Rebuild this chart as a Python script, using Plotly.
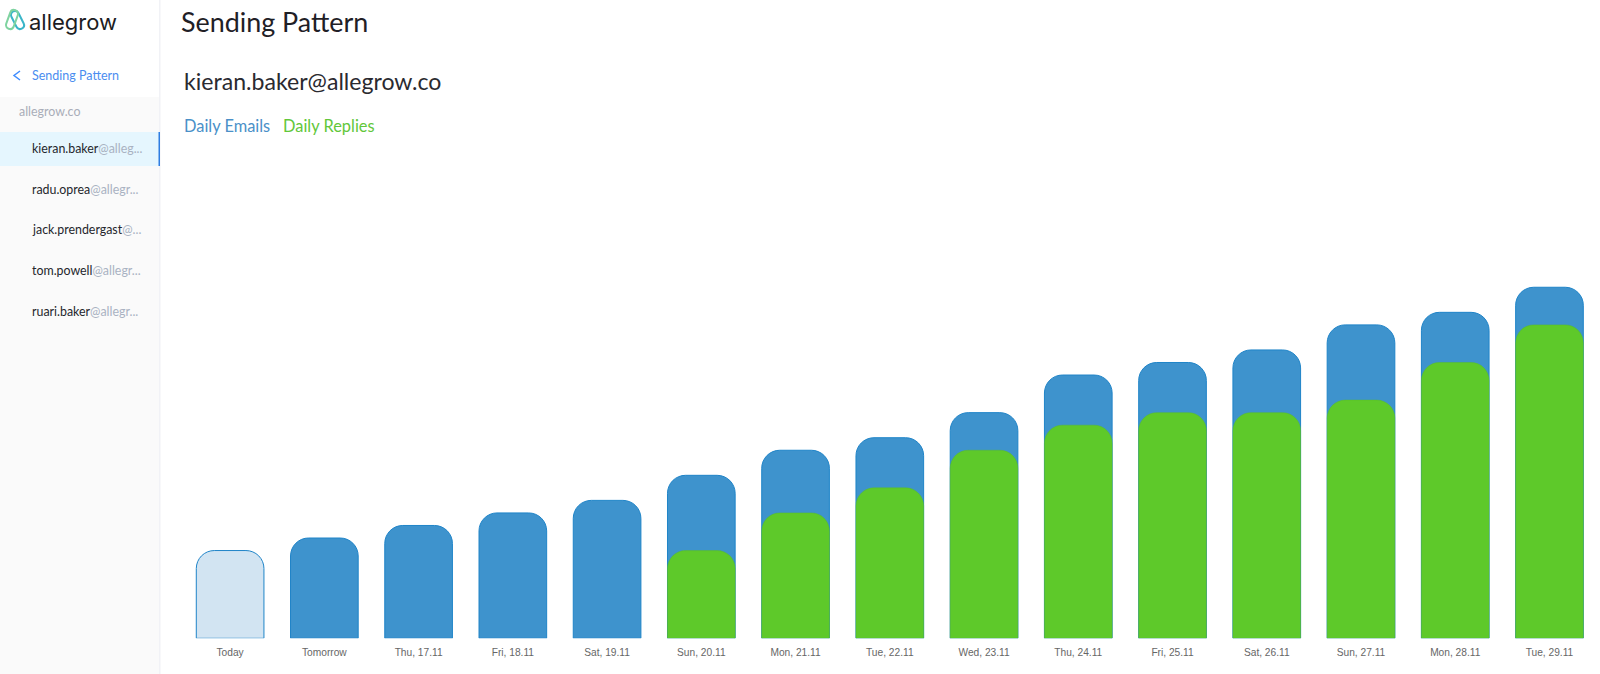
import plotly.graph_objects as go

W, H = 1600, 674

days = ['Today', 'Tomorrow', 'Thu, 17.11', 'Fri, 18.11', 'Sat, 19.11', 'Sun, 20.11',
        'Mon, 21.11', 'Tue, 22.11', 'Wed, 23.11', 'Thu, 24.11', 'Fri, 25.11',
        'Sat, 26.11', 'Sun, 27.11', 'Mon, 28.11', 'Tue, 29.11']
daily_emails = [7, 8, 9, 10, 11, 13, 15, 16, 18, 21, 22, 23, 25, 26, 28]
daily_replies = [None, None, None, None, None, 7, 10, 12, 15, 17, 18, 18, 19, 22, 25]
accounts = ['kieran.baker', 'radu.oprea', 'jack.prendergast', 'tom.powell', 'ruari.baker']
account_tails = ['@alleg...', '@allegr...', '@...', '@allegr...', '@allegr...']

BLUE = '#3e93cd'
GREEN = '#5ec92a'
BODY = 'Lato'
RADIUS = 18
BAR_WIDTH = 0.718
X_DOMAIN = [183 / W, 1596.6 / W]
Y_TOP = 38.55
BASE_PX = 638.3


def px(x):
    return x / W


def py(y):
    return 1 - y / H


def label(x, y, text, size, color, family=BODY):
    return dict(x=px(x), y=py(y), xref='paper', yref='paper', text=text, showarrow=False,
                xanchor='left', yanchor='middle', align='left',
                font=dict(family=family, size=size, color=color))


def rect(x0, y0, x1, y1, color):
    return dict(type='rect', xref='paper', yref='paper', x0=px(x0), x1=px(x1), y0=py(y0), y1=py(y1),
                fillcolor=color, line=dict(width=0), layer='below')


def line_path(points, color, width):
    path = 'M ' + ' L '.join(f'{px(x):.5f} {py(y):.5f}' for x, y in points)
    return dict(type='path', xref='paper', yref='paper', path=path,
                line=dict(color=color, width=width))


def capsule(p1, p2, r, color):
    # one loop of the logo
    dx, dy = p2[0] - p1[0], p2[1] - p1[1]
    length = (dx ** 2 + dy ** 2) ** 0.5
    dx, dy = dx / length, dy / length
    nx, ny = -dy * r, dx * r
    k = 1.33 * r

    def pt(x, y):
        return f'{px(x):.5f} {py(y):.5f}'

    path = (
        f'M {pt(p1[0] + nx, p1[1] + ny)} L {pt(p2[0] + nx, p2[1] + ny)} '
        f'C {pt(p2[0] + nx + dx * k, p2[1] + ny + dy * k)} {pt(p2[0] - nx + dx * k, p2[1] - ny + dy * k)} '
        f'{pt(p2[0] - nx, p2[1] - ny)} L {pt(p1[0] - nx, p1[1] - ny)} '
        f'C {pt(p1[0] - nx - dx * k, p1[1] - ny - dy * k)} {pt(p1[0] + nx - dx * k, p1[1] + ny - dy * k)} '
        f'{pt(p1[0] + nx, p1[1] + ny)} Z'
    )
    return dict(type='path', xref='paper', yref='paper', path=path, line=dict(color=color, width=2))


fig = go.Figure()

fig.add_trace(go.Bar(
    x=days, y=daily_emails, name='Daily Emails', width=BAR_WIDTH,
    marker=dict(color=['#d2e4f2'] + [BLUE] * 14, line=dict(color='#1f84c8', width=1), cornerradius=RADIUS),
))
# replies sit on their own overlaid axes, otherwise plotly squares off their corners
fig.add_trace(go.Bar(
    x=days, y=daily_replies, name='Daily Replies', width=BAR_WIDTH, xaxis='x2', yaxis='y2',
    marker=dict(color=GREEN, line=dict(color='#58bd28', width=0.5), cornerradius=RADIUS),
))

shapes = [
    rect(0, 97, 159, H, '#fafafa'),
    rect(159, 0, 160.5, H, '#f1f2f6'),
    rect(0, 132, 159, 166, '#e5f6fe'),
    rect(158.5, 132, 160, 166, '#2f7de1'),
    line_path([(20, 71), (14, 75.5), (20, 80)], '#3f8cff', 1.5),
    capsule((15, 15), (20, 25), 4, '#3ab5c8'),
    capsule((14, 14), (10, 25), 4, '#7fd3a0'),
]

annotations = [
    label(26.5, 22, 'allegrow', 22, '#1c1c22', 'Inter'),
    label(179, 21, 'Sending Pattern', 26.9, '#1f2026'),
    label(181.5, 80.5, 'kieran.baker@allegrow.co', 23.1, '#2a2a30'),
    label(181.5, 125, 'Daily Emails', 16.4, '#4a90c8'),
    label(280.7, 125, 'Daily Replies', 16.4, '#62c73a'),
    label(29.5, 75.5, 'Sending Pattern', 12.5, '#4b8df0'),
    label(16.5, 112, 'allegrow.co', 12.4, '#a9adb8'),
]
for i, (name, tail) in enumerate(zip(accounts, account_tails)):
    text = f'{name}<span style="color:#a9b2c2">{tail}</span>'
    annotations.append(label(30, 148.5 + i * 40.7, text, 12.4, '#25262c'))

fig.update_layout(
    barmode='overlay',
    width=W,
    height=H,
    margin=dict(l=0, r=0, t=0, b=0),
    paper_bgcolor='white',
    plot_bgcolor='white',
    showlegend=False,
    shapes=shapes,
    annotations=annotations,
    xaxis=dict(domain=X_DOMAIN, range=[-0.5, 14.5], showgrid=False, zeroline=False,
               showline=False, ticks='outside', ticklen=4, tickcolor='rgba(0,0,0,0)',
               tickangle=0, tickfont=dict(family='Liberation Sans', size=10.2, color='#666666')),
    yaxis=dict(domain=[py(BASE_PX), py(155)], range=[0, Y_TOP], visible=False),
    xaxis2=dict(domain=X_DOMAIN, range=[-0.5, 14.5], overlaying='x', anchor='y2', visible=False,
                categoryorder='array', categoryarray=days),
    yaxis2=dict(domain=[py(BASE_PX), py(155)], range=[0, Y_TOP], overlaying='y', anchor='x2', visible=False),
)

fig.write_html("out.html", post_script="document.body.style.margin='0';", config=dict(displayModeBar=False))
